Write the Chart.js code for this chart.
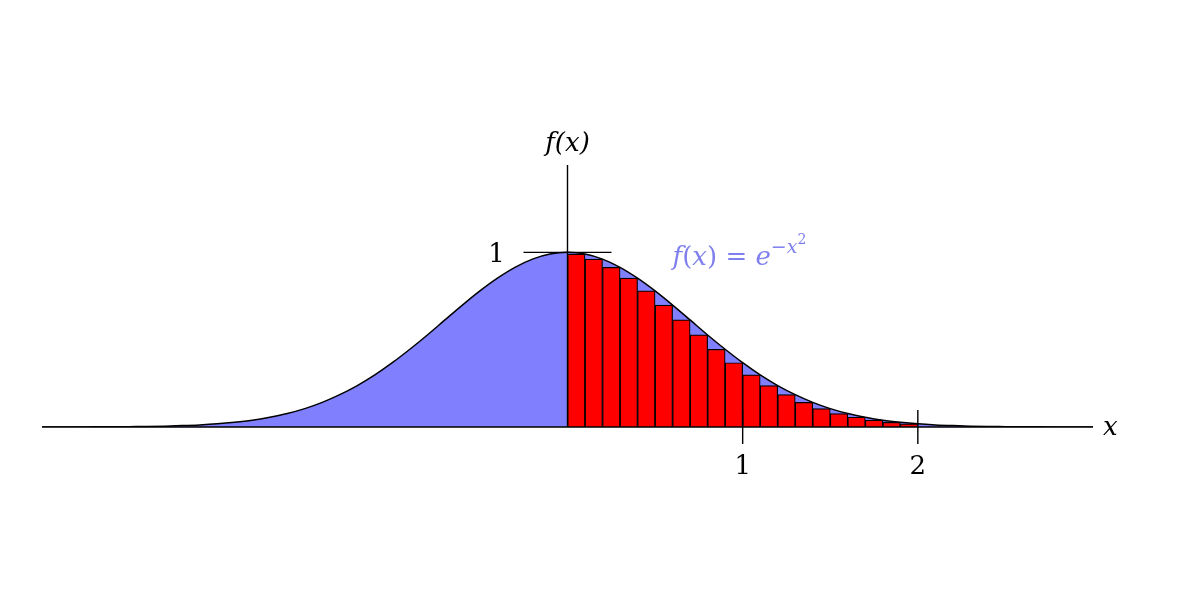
<!DOCTYPE html>
<html>
<head>
<meta charset="utf-8">
<script src="https://cdn.jsdelivr.net/npm/chart.js@4"></script>
<style>
  html, body { margin: 0; padding: 0; background: #ffffff; }
  #wrap { width: 1200px; height: 600px; }
</style>
</head>
<body>
<div id="wrap"><canvas id="chart"></canvas></div>
<script>
// curve f(x) = e^(-x^2), read at steps of 0.1
const curveX = [
  -3.0, -2.9, -2.8, -2.7, -2.6, -2.5, -2.4, -2.3, -2.2, -2.1,
  -2.0, -1.9, -1.8, -1.7, -1.6, -1.5, -1.4, -1.3, -1.2, -1.1,
  -1.0, -0.9, -0.8, -0.7, -0.6, -0.5, -0.4, -0.3, -0.2, -0.1,
  0.0,
  0.1, 0.2, 0.3, 0.4, 0.5, 0.6, 0.7, 0.8, 0.9, 1.0,
  1.1, 1.2, 1.3, 1.4, 1.5, 1.6, 1.7, 1.8, 1.9, 2.0,
  2.1, 2.2, 2.3, 2.4, 2.5, 2.6, 2.7, 2.8, 2.9, 3.0
];
const curveY = [
  0.000, 0.000, 0.000, 0.001, 0.001, 0.002, 0.003, 0.005, 0.008, 0.012,
  0.018, 0.027, 0.039, 0.056, 0.077, 0.105, 0.141, 0.185, 0.237, 0.298,
  0.368, 0.445, 0.527, 0.613, 0.698, 0.779, 0.852, 0.914, 0.961, 0.990,
  1.000,
  0.990, 0.961, 0.914, 0.852, 0.779, 0.698, 0.613, 0.527, 0.445, 0.368,
  0.298, 0.237, 0.185, 0.141, 0.105, 0.077, 0.056, 0.039, 0.027, 0.018,
  0.012, 0.008, 0.005, 0.003, 0.002, 0.001, 0.001, 0.000, 0.000, 0.000
];

// rectangles of width 0.1 from 0 to 2 (centres and heights)
const barCenters = [
  0.05, 0.15, 0.25, 0.35, 0.45, 0.55, 0.65, 0.75, 0.85, 0.95,
  1.05, 1.15, 1.25, 1.35, 1.45, 1.55, 1.65, 1.75, 1.85, 1.95
];
const barHeights = [
  0.990, 0.961, 0.914, 0.852, 0.779, 0.698, 0.613, 0.527, 0.445, 0.368,
  0.298, 0.237, 0.185, 0.141, 0.105, 0.077, 0.056, 0.039, 0.027, 0.018
];

const xTicks = [1, 2];
const xTickLabels = ["1", "2"];
const yTicks = [1];
const yTickLabels = ["1"];
const xAxisTitle = "x";
const yAxisTitle = "f(x)";

const SERIF = '"DejaVu Serif", "Liberation Serif", serif';

const axesPlugin = {
  id: "axes",
  afterDatasetsDraw(chart) {
    const { ctx, scales: { x, y } } = chart;
    const x0 = x.getPixelForValue(0);
    const y0 = y.getPixelForValue(0);
    ctx.save();
    ctx.strokeStyle = "#000";
    ctx.lineWidth = 1.4;
    ctx.beginPath();
    ctx.moveTo(x.getPixelForValue(x.min), y0);
    ctx.lineTo(x.getPixelForValue(x.max), y0);
    ctx.moveTo(x0, y0);
    ctx.lineTo(x0, y.getPixelForValue(y.max));
    xTicks.forEach(v => {
      const px = x.getPixelForValue(v);
      ctx.moveTo(px, y0 - 17);
      ctx.lineTo(px, y0 + 17);
    });
    yTicks.forEach(v => {
      const py = y.getPixelForValue(v);
      ctx.moveTo(x0 - 44, py);
      ctx.lineTo(x0 + 44, py);
    });
    ctx.stroke();

    ctx.fillStyle = "#000";
    ctx.font = "26px " + SERIF;
    ctx.textAlign = "center";
    ctx.textBaseline = "alphabetic";
    xTicks.forEach((v, i) => {
      ctx.fillText(xTickLabels[i], x.getPixelForValue(v), y0 + 47);
    });
    yTicks.forEach((v, i) => {
      ctx.fillText(yTickLabels[i], x0 - 71, y.getPixelForValue(v) + 10);
    });

    ctx.font = "italic 26px " + SERIF;
    ctx.textAlign = "left";
    ctx.fillText(xAxisTitle, x.getPixelForValue(x.max) + 10, y0 + 8);
    ctx.textAlign = "center";
    ctx.fillText(yAxisTitle, x0, y.getPixelForValue(y.max) - 14);

    // formula label f(x) = e^{-x^2}
    const parts = [
      ["italic 26px", "f", 0], ["26px", "(", 0], ["italic 26px", "x", 0],
      ["26px", ")", 0], ["26px", " = ", 0], ["italic 26px", "e", 0],
      ["19px", "\u2212", -12], ["italic 19px", "x", -12], ["14px", "2", -21]
    ];
    let px = x.getPixelForValue(0.6);
    const base = y.getPixelForValue(0.93);
    ctx.fillStyle = "#7f7fee";
    ctx.textAlign = "left";
    parts.forEach(([f, t, dy]) => {
      ctx.font = f + " " + SERIF;
      ctx.fillText(t, px, base + dy);
      px += ctx.measureText(t).width;
    });
    ctx.restore();
  }
};

new Chart(document.getElementById("chart"), {
  type: "bar",
  data: {
    datasets: [
      {
        type: "bar",
        label: "rectangles",
        data: barCenters.map((c, i) => ({ x: c, y: barHeights[i] })),
        backgroundColor: "#ff0000",
        borderColor: "#000000",
        borderWidth: 1.2,
        barPercentage: 1,
        categoryPercentage: 1,
        order: 0
      },
      {
        type: "line",
        label: "f(x)",
        data: curveX.map((v, i) => ({ x: v, y: curveY[i] })),
        borderColor: "#000000",
        backgroundColor: "#8080ff",
        borderWidth: 1.5,
        pointRadius: 0,
        fill: "origin",
        cubicInterpolationMode: "monotone",
        order: 1
      }
    ]
  },
  options: {
    responsive: true,
    maintainAspectRatio: false,
    animation: false,
    layout: { padding: { left: 42, right: 107, top: 165, bottom: 173 } },
    plugins: {
      legend: { display: false },
      tooltip: { enabled: false }
    },
    scales: {
      x: { type: "linear", min: -3, max: 3, offset: false, display: false },
      y: { type: "linear", min: 0, max: 1.5, display: false }
    }
  },
  plugins: [axesPlugin]
});
</script>
</body>
</html>
